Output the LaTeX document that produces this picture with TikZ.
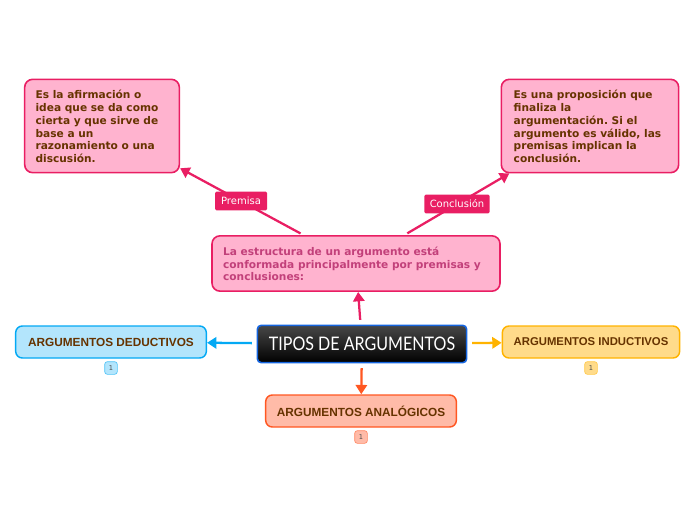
\documentclass[tikz,border=0pt]{standalone}
\usepackage{fontspec}
\setmainfont{DejaVu Sans}
\newfontfamily\titlefont{Liberation Sans}
\newfontfamily\rootfont[FakeStretch=0.86]{Lato}
\usetikzlibrary{calc,arrows.meta}
\definecolor{pinkfill}{HTML}{FFB3CF}
\definecolor{pinkline}{HTML}{E91E63}
\definecolor{pinktext}{HTML}{C2407A}
\definecolor{browntext}{HTML}{663300}
\definecolor{bluefill}{HTML}{B3E5FC}
\definecolor{blueline}{HTML}{03A9F4}
\definecolor{yellowfill}{HTML}{FFDB8A}
\definecolor{yellowline}{HTML}{FFB300}
\definecolor{orangefill}{HTML}{FFBBA8}
\definecolor{orangeline}{HTML}{FF5722}
\definecolor{rootline}{HTML}{1565E0}
\tikzset{
  bubble/.style={draw=pinkline, fill=pinkfill, line width=1.2pt, rounded corners=6pt,
    align=left, text=browntext, font=\fontsize{7.95}{9.6}\selectfont\bfseries\frenchspacing,
    inner sep=0pt, anchor=center},
  topic/.style={draw=#1line, fill=#1fill, line width=1.1pt, rounded corners=5pt,
    text=browntext, font=\fontsize{8.85}{11}\titlefont\bfseries, inner sep=0pt},
  badge/.style={draw=#1line!70, fill=#1fill, line width=0.5pt, rounded corners=2pt,
    minimum size=9.5pt, inner sep=0pt, text=black!70, font=\fontsize{5}{5}\selectfont},
  tag/.style={fill=pinkline, rounded corners=1pt, text=white, inner sep=0pt,
    minimum height=14pt, font=\fontsize{7.5}{9}\selectfont},
  link/.style={draw=#1, line width=1.7pt, -{Triangle[length=7pt,width=8.5pt]}},
}
\begin{document}
\begin{tikzpicture}[x=0.75pt, y=-0.75pt]
  \useasboundingbox (0,0) rectangle (696,520);
  % root and the three branches
  \node[draw=rootline, line width=1.2pt, rounded corners=3pt, top color=black!72, bottom color=black,
    minimum width=157pt, minimum height=28pt, inner sep=0pt, text=white,
    font=\fontsize{14}{16}\rootfont] (root) at (362,344) {TIPOS DE ARGUMENTOS};
  \node[topic=blue, minimum width=143pt, minimum height=24pt] (deductivos) at (111,342) {ARGUMENTOS DEDUCTIVOS};
  \node[topic=yellow, minimum width=133pt, minimum height=24pt, font=\fontsize{8.5}{11}\titlefont\bfseries] (inductivos) at (591,342) {ARGUMENTOS INDUCTIVOS};
  \node[topic=orange, minimum width=143pt, minimum height=24pt] (analogicos) at (361,411) {ARGUMENTOS ANALÓGICOS};
  \node[badge=blue] (n1) at (111,368) {1};
  \node[badge=yellow] (n2) at (591,368) {1};
  \node[badge=orange] (n3) at (361,437) {1};
  % premises and conclusion
  \node[bubble, minimum width=216pt, minimum height=41.5pt, text=pinktext] (estructura) at (356,263.5)
    {\begin{tabular}{@{}l@{}}\rule{0pt}{9.7pt}La estructura de un argumento está\\conformada principalmente por premisas y\\conclusiones:\end{tabular}\hspace{6pt}};
  \node[bubble, minimum width=116pt, minimum height=70pt] (afirmacion) at (102,126)
    {\begin{tabular}{@{}l@{}}\rule{0pt}{10pt}Es la afirmación o\\idea que se da como\\cierta y que sirve de\\base a un\\razonamiento o una\\discusión.\end{tabular}\hspace{7.5pt}};
  \node[bubble, minimum width=133pt, minimum height=70pt] (proposicion) at (590,126)
    {\begin{tabular}{@{}l@{}}\rule{0pt}{10pt}Es una proposición que\\finaliza la\\argumentación. Si el\\argumento es válido, las\\premisas implican la\\conclusión.\end{tabular}\hspace{3.75pt}};
  % connectors
  \draw[link=blueline, shorten <=3.5pt] (root) -- (deductivos);
  \draw[link=yellowline, shorten <=3.5pt] (root) -- (inductivos);
  \draw[link=orangeline, shorten <=3.5pt] (root) -- (analogicos);
  \draw[link=pinkline, shorten <=3.5pt] (root) -- (estructura);
  \draw[link=pinkline, shorten <=2.5pt] (estructura) -- (afirmacion);
  \draw[link=pinkline, shorten <=2.5pt] (estructura) -- (proposicion);
  \node[tag, minimum width=39pt] (premisa) at (241,201) {Premisa};
  \node[tag, minimum width=49pt] (conclusion) at (457,204) {Conclusión};
\end{tikzpicture}
\end{document}
